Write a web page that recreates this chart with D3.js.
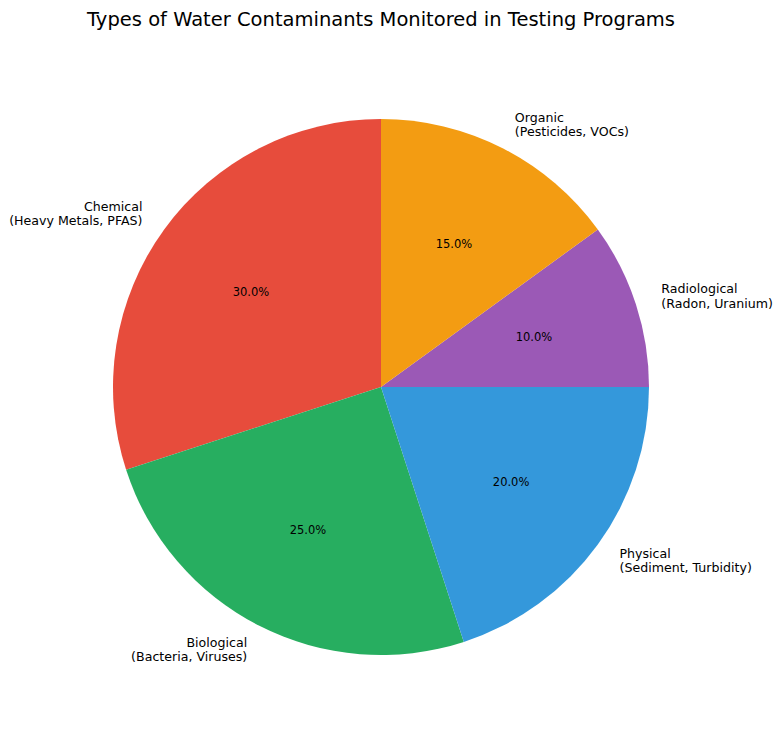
<!DOCTYPE html>
<html><head><meta charset="utf-8">
<script src="https://cdn.jsdelivr.net/npm/d3@7"></script>
<style>body{margin:0;background:#fff}svg{display:block}text{font-family:"DejaVu Sans",sans-serif;fill:#000}</style>
</head><body><svg id="c" width="781" height="732"></svg>
<script>
const categories = ["Chemical\n(Heavy Metals, PFAS)", "Biological\n(Bacteria, Viruses)", "Physical\n(Sediment, Turbidity)", "Radiological\n(Radon, Uranium)", "Organic\n(Pesticides, VOCs)"];
const values = [30, 25, 20, 10, 15];
const colors = ["#e74c3c", "#27ae60", "#3498db", "#9b59b6", "#f39c12"];
const title = "Types of Water Contaminants Monitored in Testing Programs";

const svg = d3.select("#c");
const cx = 381, cy = 387, R = 268;
svg.append("text").attr("x", 381).attr("y", 26).attr("text-anchor", "middle")
  .style("font-size", "19.5px").text(title);

const pie = d3.pie().sort(null).startAngle(0).endAngle(-2 * Math.PI);
const arcs = pie(values);
const arc = d3.arc().innerRadius(0).outerRadius(R);
const g = svg.append("g").attr("transform", `translate(${cx},${cy})`);
g.selectAll("path").data(arcs).join("path")
  .attr("d", arc).attr("fill", (d, i) => colors[i]);

const total = d3.sum(values);
const fmt = d3.format(".1f");
arcs.forEach((d, i) => {
  const a = (d.startAngle + d.endAngle) / 2;
  const px = Math.sin(a) * R * 0.6, py = -Math.cos(a) * R * 0.6;
  g.append("text").attr("x", px).attr("y", py).attr("text-anchor", "middle")
    .attr("dominant-baseline", "central").style("font-size", "11.5px")
    .text(fmt(d.value / total * 100) + "%");
  const lx = Math.sin(a) * R * 1.1, ly = -Math.cos(a) * R * 1.1;
  const lines = categories[i].split("\n");
  const lh = 14.5;
  const t = g.append("text").attr("x", lx).attr("y", ly)
    .attr("text-anchor", lx > 0 ? "start" : "end").style("font-size", "12.6px");
  lines.forEach((ln, k) => {
    t.append("tspan").attr("x", lx)
      .attr("y", ly + (k - (lines.length - 1) / 2) * lh)
      .attr("dominant-baseline", "central").text(ln);
  });
});
</script></body></html>
